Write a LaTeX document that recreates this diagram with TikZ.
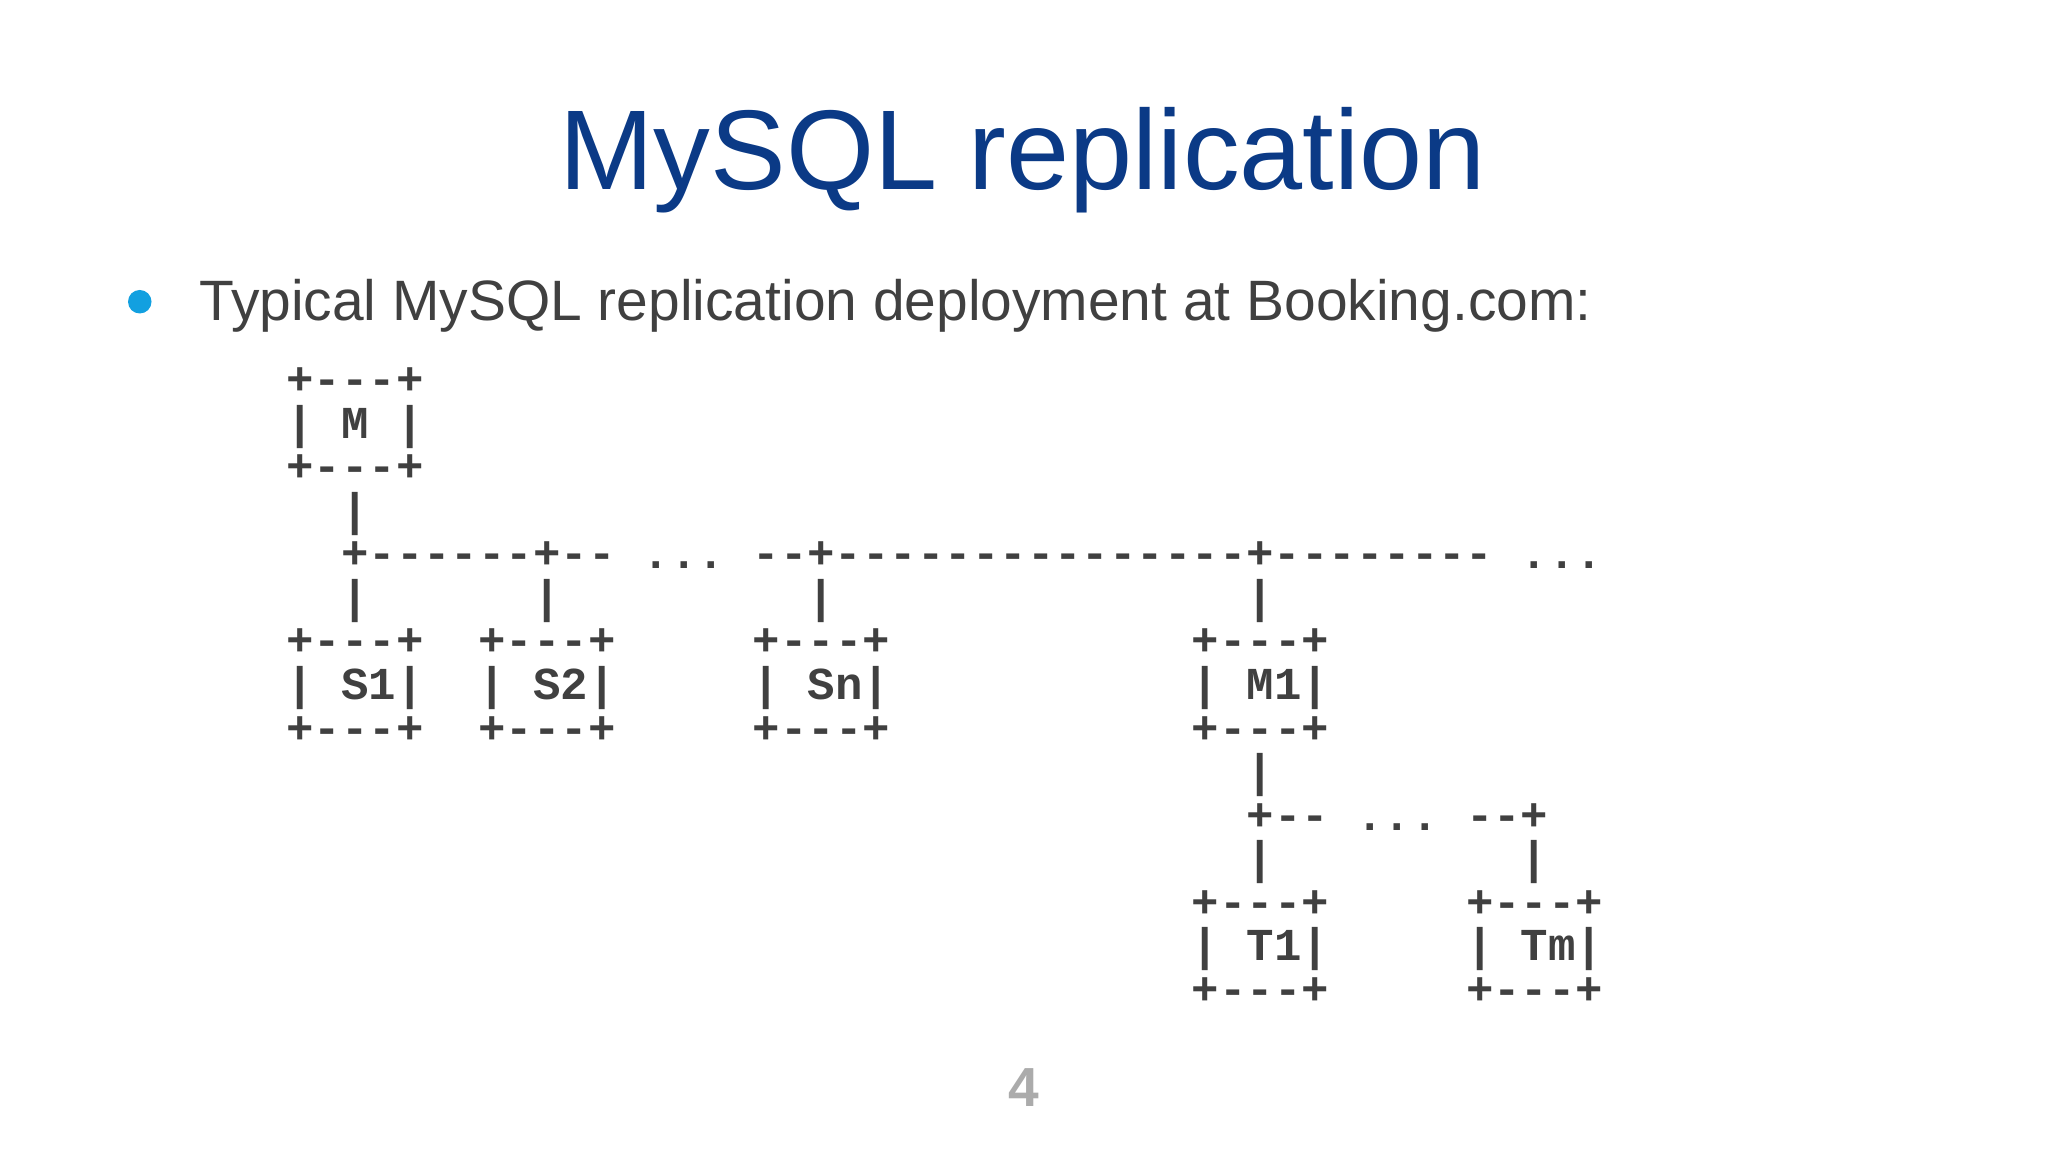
\documentclass[tikz,border=0pt]{standalone}
\usepackage{fontspec}
\setmainfont{Liberation Sans}
\setmonofont{Liberation Mono}
\usetikzlibrary{positioning}
\definecolor{titleblue}{HTML}{0B3A86}
\definecolor{bodygray}{HTML}{404040}
\definecolor{bulletblue}{HTML}{12A0E0}
\newcommand\skipdots{.{}.{}.}
\tikzset{
  asciirow/.style={anchor=base west,inner sep=0pt,text=bodygray,
    font=\ttfamily\bfseries\fontsize{9.96pt}{10pt}\selectfont}
}
\begin{document}
\begin{tikzpicture}

    \useasboundingbox (0,0) rectangle (15.68,-8.82);

    \node(title) [anchor=base,inner sep=0pt,text=titleblue,
      font=\fontsize{24.7pt}{28pt}\selectfont] at (7.83,-1.45) {MySQL replication};

    \node(bullet) [circle,fill=bulletblue,inner sep=0pt,minimum size=0.18cm] at (1.07,-2.31) {};
    \node(intro) [anchor=base west,inner sep=0pt,text=bodygray,
      font=\fontsize{12.4pt}{15pt}\selectfont] at (1.52,-2.45) {Typical MySQL replication deployment at Booking.com:};

    % replication tree, one line of characters per row
    \foreach \txt [count=\i] in {
      {+---+},
      {|~M~|},
      {+---+},
      {~~|},
      {~~+------+--~\skipdots~--+---------------+--------~\skipdots},
      {~~|~~~~~~|~~~~~~~~~|~~~~~~~~~~~~~~~|},
      {+---+~~+---+~~~~~+---+~~~~~~~~~~~+---+},
      {|~S1|~~|~S2|~~~~~|~Sn|~~~~~~~~~~~|~M1|},
      {+---+~~+---+~~~~~+---+~~~~~~~~~~~+---+},
      {~~~~~~~~~~~~~~~~~~~~~~~~~~~~~~~~~~~|},
      {~~~~~~~~~~~~~~~~~~~~~~~~~~~~~~~~~~~+--~\skipdots~--+},
      {~~~~~~~~~~~~~~~~~~~~~~~~~~~~~~~~~~~|~~~~~~~~~|},
      {~~~~~~~~~~~~~~~~~~~~~~~~~~~~~~~~~+---+~~~~~+---+},
      {~~~~~~~~~~~~~~~~~~~~~~~~~~~~~~~~~|~T1|~~~~~|~Tm|},
      {~~~~~~~~~~~~~~~~~~~~~~~~~~~~~~~~~+---+~~~~~+---+}}
      \node(row\i) [asciirow] at (2.185,{-3.02-0.3336*(\i-1)}) {\txt};

    \node(page) [anchor=base,inner sep=0pt,text=black!33,
      font=\bfseries\fontsize{12pt}{14pt}\selectfont] at (7.84,-8.47) {4};

  \end{tikzpicture}
\end{document}
